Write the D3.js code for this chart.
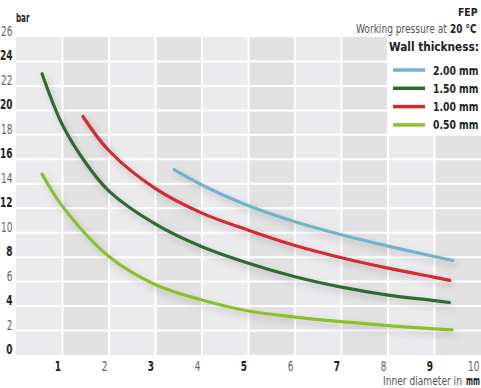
<!DOCTYPE html>
<html><head><meta charset="utf-8">
<script src="https://cdn.jsdelivr.net/npm/d3@7/dist/d3.min.js"></script>
<style>
body{margin:0;background:#fff;}
svg{display:block;font-family:"DejaVu Sans Condensed","DejaVu Sans",sans-serif;font-stretch:condensed;}
</style></head>
<body><svg id="c" width="481" height="388"></svg>
<script>
const seriesNames = ["2.00 mm","1.50 mm","1.00 mm","0.50 mm"];
const seriesColors = ["#72b3cc","#2e6a30","#d52a30","#8cc02a"];
const wall200 = [[3.4,15.15],[4,13.9],[5,12.2],[6,10.9],[7,9.83],[8,8.9],[9,8.05],[9.4,7.73]];
const wall150 = [[0.56,23.0],[1,18.8],[1.5,15.7],[2,13.4],[3,10.7],[4,8.85],[5,7.5],[6,6.4],[7,5.55],[8,4.9],[9,4.45],[9.32,4.29]];
const wall100 = [[1.44,19.5],[2,16.7],[3,13.6],[4,11.6],[5,10.2],[6,8.95],[7,7.95],[8,7.1],[9,6.35],[9.33,6.1]];
const wall050 = [[0.56,14.8],[1,12.15],[2,8.05],[3,5.75],[4,4.5],[5,3.6],[6,3.1],[7,2.73],[8,2.4],[9,2.13],[9.38,2.05]];
const seriesData = [wall200, wall150, wall100, wall050];
const xTicks = [1,2,3,4,5,6,7,8,9,10];
const yTicks = [0,2,4,6,8,10,12,14,16,18,20,22,24,26];

const svg = d3.select("#c");
const x = d3.scaleLinear().domain([0,10]).range([16,481]);
const y = d3.scaleLinear().domain([0,26]).range([355,37]);

const defs = svg.append("defs");
const f = defs.append("filter").attr("id","sh").attr("x","-20%").attr("y","-20%").attr("width","140%").attr("height","140%");
f.append("feDropShadow").attr("dx",3).attr("dy",4).attr("stdDeviation",3.5).attr("flood-color","#000").attr("flood-opacity",0.2);

// column backgrounds
const cols = d3.range(0,10);
svg.append("g").selectAll("rect").data(cols).join("rect")
  .attr("x", d=>x(d)).attr("width", d=>x(d+1)-x(d))
  .attr("y", y(26)).attr("height", y(0)-y(26))
  .attr("fill", d=> d%2===0 ? "#ebebed" : "#e2e2e2");
// legend cut-out
svg.append("rect").attr("x",x(8)+1).attr("y",y(26)-1).attr("width",x(10)-x(8)+2).attr("height",y(18)-y(26)).attr("fill","#fff");
// white grid lines
const g = svg.append("g").attr("stroke","#fff").attr("stroke-width",2);
g.selectAll("line.v").data(d3.range(1,10)).join("line").attr("class","v")
  .attr("x1",d=>x(d)).attr("x2",d=>x(d)).attr("y1",y(26)).attr("y2",y(0));
g.selectAll("line.h").data(d3.range(2,26,2)).join("line").attr("class","h")
  .attr("y1",d=>y(d)).attr("y2",d=>y(d)).attr("x1",x(0)).attr("x2",x(10));

// curves
const line = d3.line().x(d=>x(d[0])).y(d=>y(d[1])).curve(d3.curveCatmullRom.alpha(0.5));
svg.append("g").selectAll("path").data(seriesData).join("path")
  .attr("d", line).attr("fill","none")
  .attr("stroke",(d,i)=>seriesColors[i]).attr("stroke-width",3.2)
  .attr("stroke-linecap","round").attr("filter","url(#sh)");

// y tick labels (condensed via horizontal scale)
svg.append("g").selectAll("text").data(yTicks).join("text")
  .attr("transform",d=>`translate(12.5,${y(d)-1}) scale(0.74,1)`)
  .attr("text-anchor","end")
  .attr("font-size",13.5)
  .attr("font-weight",(d,i)=> i%2===0 ? "bold" : "normal")
  .attr("fill",(d,i)=> i%2===0 ? "#222" : "#666")
  .text(d=>d);
// x tick labels
svg.append("g").selectAll("text").data(xTicks).join("text")
  .attr("transform",d=>`translate(${x(d)-1.5},371) scale(0.74,1)`)
  .attr("text-anchor","end")
  .attr("font-size",13.5)
  .attr("font-weight",(d,i)=> i%2===0 ? "bold" : "normal")
  .attr("fill",(d,i)=> i%2===0 ? "#222" : "#666")
  .text(d=>d);

// helper: place text starting at x0 with baseline yb, squeezed to target width
function fitText(str, x0, yb, w, size, bold, color){
  const t = svg.append("text").attr("font-size",size)
    .attr("font-weight",bold?"bold":"normal").attr("fill",color).text(str);
  const nat = t.node().getComputedTextLength();
  t.attr("transform",`translate(${x0},${yb}) scale(${w/nat},1)`);
  return t;
}
fitText("bar", 16, 21.5, 13.5, 12, true, "#222");
fitText("FEP", 458, 15.5, 19.5, 11, true, "#222");
fitText("Working pressure at", 356, 32.5, 91, 11.5, false, "#555");
fitText("20 °C", 450, 32.5, 26.5, 11.5, true, "#222");
fitText("Wall thickness:", 389, 50.5, 90, 12.5, true, "#222");
fitText("Inner diameter in", 383, 385, 79, 12, false, "#555");
fitText("mm", 466, 385, 14, 12, true, "#222");

// legend
seriesNames.forEach((name,i)=>{
  const yy = 70 + i*18.3;
  svg.append("line").attr("x1",393).attr("x2",425).attr("y1",yy).attr("y2",yy)
    .attr("stroke",seriesColors[i]).attr("stroke-width",3.5);
  fitText(name, 433, yy+4.5, 45.5, 12.5, true, "#222");
});
</script></body></html>
